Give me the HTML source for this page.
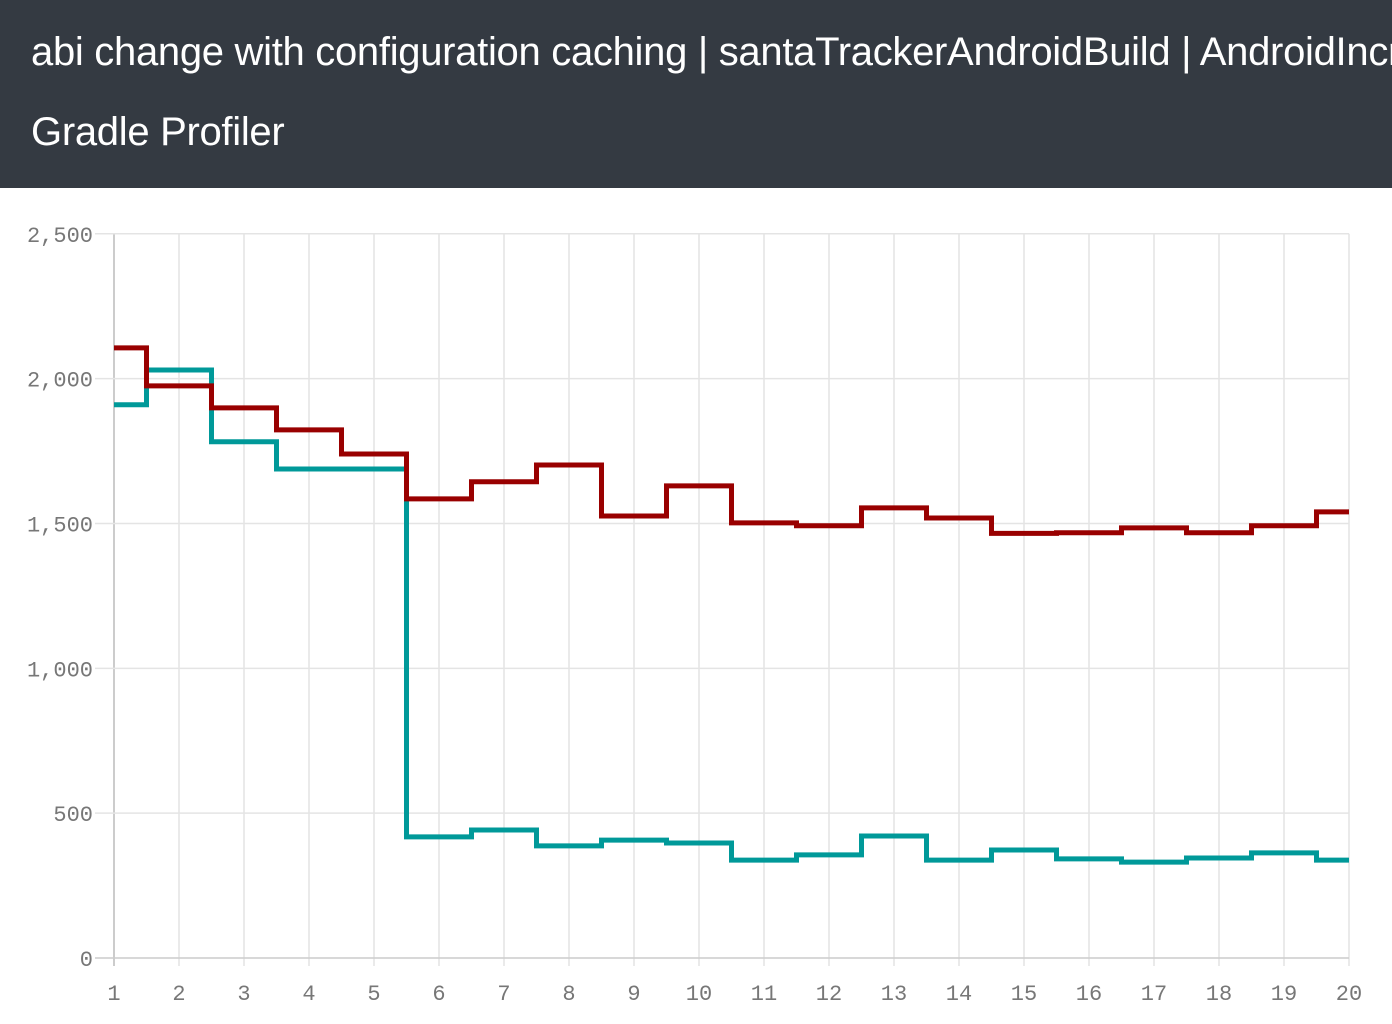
<!DOCTYPE html>
<html><head><meta charset="utf-8"><style>
html,body{margin:0;padding:0;width:1392px;height:1024px;overflow:hidden;background:#fff;}
#hdr{position:absolute;left:0;top:0;width:1392px;height:188px;background:#343a42;overflow:hidden;}
.t{position:absolute;left:31px;color:#fff;font-family:"Liberation Sans",sans-serif;font-size:40px;white-space:nowrap;letter-spacing:-0.3px;}
svg{position:absolute;left:0;top:188px;}
</style></head><body>
<div id="hdr">
<div class="t" style="top:30px">abi change with configuration caching | santaTrackerAndroidBuild | AndroidIncrementalBuild</div>
<div class="t" style="top:110px">Gradle Profiler</div>
</div>
<svg id="chart" width="1392" height="836"></svg>
<script>
const xCats=[1,2,3,4,5,6,7,8,9,10,11,12,13,14,15,16,17,18,19,20];
const yTicks=[0,500,1000,1500,2000,2500];
const yTickLabels=["0","500","1,000","1,500","2,000","2,500"];
const redSeries=[2106,1975,1899,1823,1740,1585,1644,1702,1526,1630,1502,1492,1554,1519,1466,1468,1485,1468,1492,1540];
const tealSeries=[1910,2030,1782,1688,1688,418,442,387,407,397,338,356,421,338,373,342,331,345,363,338];
const OY=188;
function X(v){return 114+(v-1)*65;}
function Y(v){return 958-OY-v*0.28968;}
const svg=document.getElementById('chart');const NS='http://www.w3.org/2000/svg';
function mk(t,a,p){const e=document.createElementNS(NS,t);for(const k in a)e.setAttribute(k,a[k]);(p||svg).appendChild(e);return e;}
xCats.forEach(c=>{const l=mk('line',{x1:X(c),x2:X(c),y1:Y(2500),y2:Y(0)+8,stroke:c===1?'#ccc':'#e4e4e4','stroke-width':c===1?2:1.5});

const t=mk('text',{x:X(c),y:Y(0)+42,'text-anchor':'middle','font-family':'Liberation Mono, monospace','font-size':22,fill:'#777'});t.textContent=c;
});
yTicks.forEach((v,i)=>{const l=mk('line',{x1:95,x2:X(20),y1:Y(v),y2:Y(v),stroke:v===0?'#ccc':'#e4e4e4','stroke-width':1.5});

const t=mk('text',{x:93,y:Y(v)+8,'text-anchor':'end','font-family':'Liberation Mono, monospace','font-size':22,fill:'#777'});t.textContent=yTickLabels[i];
});
function step(s){let d='';s.forEach((v,i)=>{const x0=i===0?X(xCats[0]):X(xCats[i])-32.5;const x1=i===s.length-1?X(xCats[i]):X(xCats[i])+32.5;d+=(i===0?'M':'L')+x0+' '+Y(v)+' L'+x1+' '+Y(v)+' ';});return d;}
const pt=mk('path',{d:step(tealSeries),fill:'none',stroke:'#009999','stroke-width':5});

const pr=mk('path',{d:step(redSeries),fill:'none',stroke:'#990000','stroke-width':5});

</script>
</body></html>
